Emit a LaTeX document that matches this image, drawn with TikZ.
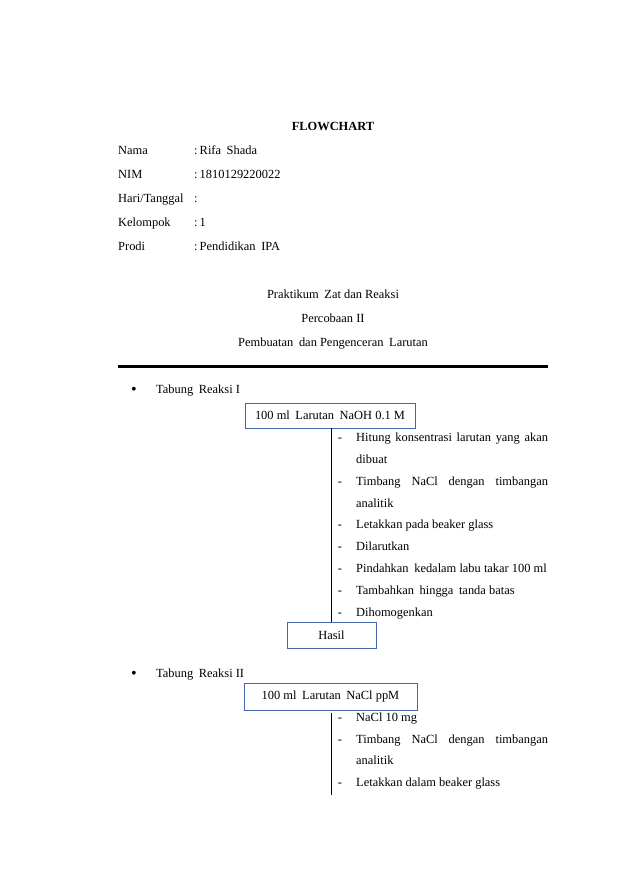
\documentclass[tikz,border=0pt]{standalone}
\usepackage{fontspec}
\setmainfont{Liberation Serif}
\definecolor{boxblue}{RGB}{68,102,170}
\newcommand{\jline}[1]{\makebox[179pt][s]{#1}}
\newcommand{\wsp}{\hspace{0.45em}}
\begin{document}
\begin{tikzpicture}[x=0.9333pt,y=-0.9333pt,
  txt/.style={anchor=base west,inner sep=0pt,font=\fontsize{11.6}{14}\selectfont},
  ctxt/.style={anchor=base,inner sep=0pt,font=\fontsize{11.6}{14}\selectfont},
  dsh/.style={anchor=base,inner sep=0pt,font=\fontsize{11.6}{14}\selectfont},
  bul/.style={anchor=base,inner sep=0pt,font=\fontsize{15}{14}\selectfont},
  flowbox/.style={draw=boxblue,line width=0.8pt,fill=white,inner sep=0pt,
    font=\fontsize{11.6}{14}\selectfont},
  link/.style={draw=black,line width=0.8pt}]
\useasboundingbox[fill=white] (0,0) rectangle (638,881);

% header
\node[ctxt,font=\fontsize{11.6}{14}\selectfont\bfseries] (title) at (333,130) {FLOWCHART};
\node[txt] (l1) at (118,154) {Nama};
\node[txt] (l2) at (118,178) {NIM};
\node[txt] (l3) at (118,202) {Hari/Tanggal};
\node[txt] (l4) at (118,226) {Kelompok};
\node[txt] (l5) at (118,250) {Prodi};
\node[txt] (v1) at (194,154) {:\,Rifa\wsp Shada};
\node[txt] (v2) at (194,178) {:\,1810129220022};
\node[txt] (v3) at (194,202) {:};
\node[txt] (v4) at (194,226) {:\,1};
\node[txt] (v5) at (194,250) {:\,Pendidikan\wsp IPA};

\node[ctxt] (t1) at (333,298) {Praktikum\wsp Zat dan Reaksi};
\node[ctxt] (t2) at (333,322) {Percobaan II};
\node[ctxt] (t3) at (333,346) {Pembuatan\wsp dan Pengenceran\wsp Larutan};
\draw[line width=2.8pt] (118,366) -- (548,366);

% Tabung Reaksi I
\node[bul] (b1) at (134,394) {\textbullet};
\node[txt] (s1) at (156,393) {Tabung\wsp Reaksi I};
\node[flowbox,minimum width={170*0.9333pt},minimum height={25*0.9333pt}] (box1) at (330,415.5) {100 ml\wsp Larutan\wsp NaOH 0.1 M};
\node[flowbox,minimum width={89*0.9333pt},minimum height={26*0.9333pt}] (hasil) at (331.5,635) {Hasil};
\draw[link] (hasil.north |- box1.south) -- (hasil.north);

\node[dsh] (d1) at (340,441) {-};
\node[txt] (i1) at (356,441) {\jline{Hitung konsentrasi larutan yang akan}};
\node[txt] (i1b) at (356,463) {dibuat};
\node[dsh] (d2) at (340,485) {-};
\node[txt] (i2) at (356,485) {\jline{Timbang NaCl dengan timbangan}};
\node[txt] (i2b) at (356,507) {analitik};
\node[dsh] (d3) at (340,528) {-};
\node[txt] (i3) at (356,528) {Letakkan pada beaker glass};
\node[dsh] (d4) at (340,550) {-};
\node[txt] (i4) at (356,550) {Dilarutkan};
\node[dsh] (d5) at (340,572) {-};
\node[txt] (i5) at (356,572) {Pindahkan\wsp kedalam labu takar 100 ml};
\node[dsh] (d6) at (340,594) {-};
\node[txt] (i6) at (356,594) {Tambahkan\wsp hingga\wsp tanda batas};
\node[dsh] (d7) at (340,616) {-};
\node[txt] (i7) at (356,616) {Dihomogenkan};

% Tabung Reaksi II
\node[bul] (b2) at (134,678) {\textbullet};
\node[txt] (s2) at (156,677) {Tabung\wsp Reaksi II};
\node[flowbox,minimum width={173*0.9333pt},minimum height={27*0.9333pt}] (box2) at (330.5,696.5) {100 ml\wsp Larutan\wsp NaCl ppM};
\coordinate (end2) at (331,795);
\draw[link] ([yshift=-3*0.9333pt]end2 |- box2.south) -- (end2);

\node[dsh] (e1) at (340,721) {-};
\node[txt] (j1) at (356,721) {NaCl 10 mg};
\node[dsh] (e2) at (340,743) {-};
\node[txt] (j2) at (356,743) {\jline{Timbang NaCl dengan timbangan}};
\node[txt] (j2b) at (356,764) {analitik};
\node[dsh] (e3) at (340,786) {-};
\node[txt] (j3) at (356,786) {Letakkan dalam beaker glass};
\end{tikzpicture}
\end{document}
